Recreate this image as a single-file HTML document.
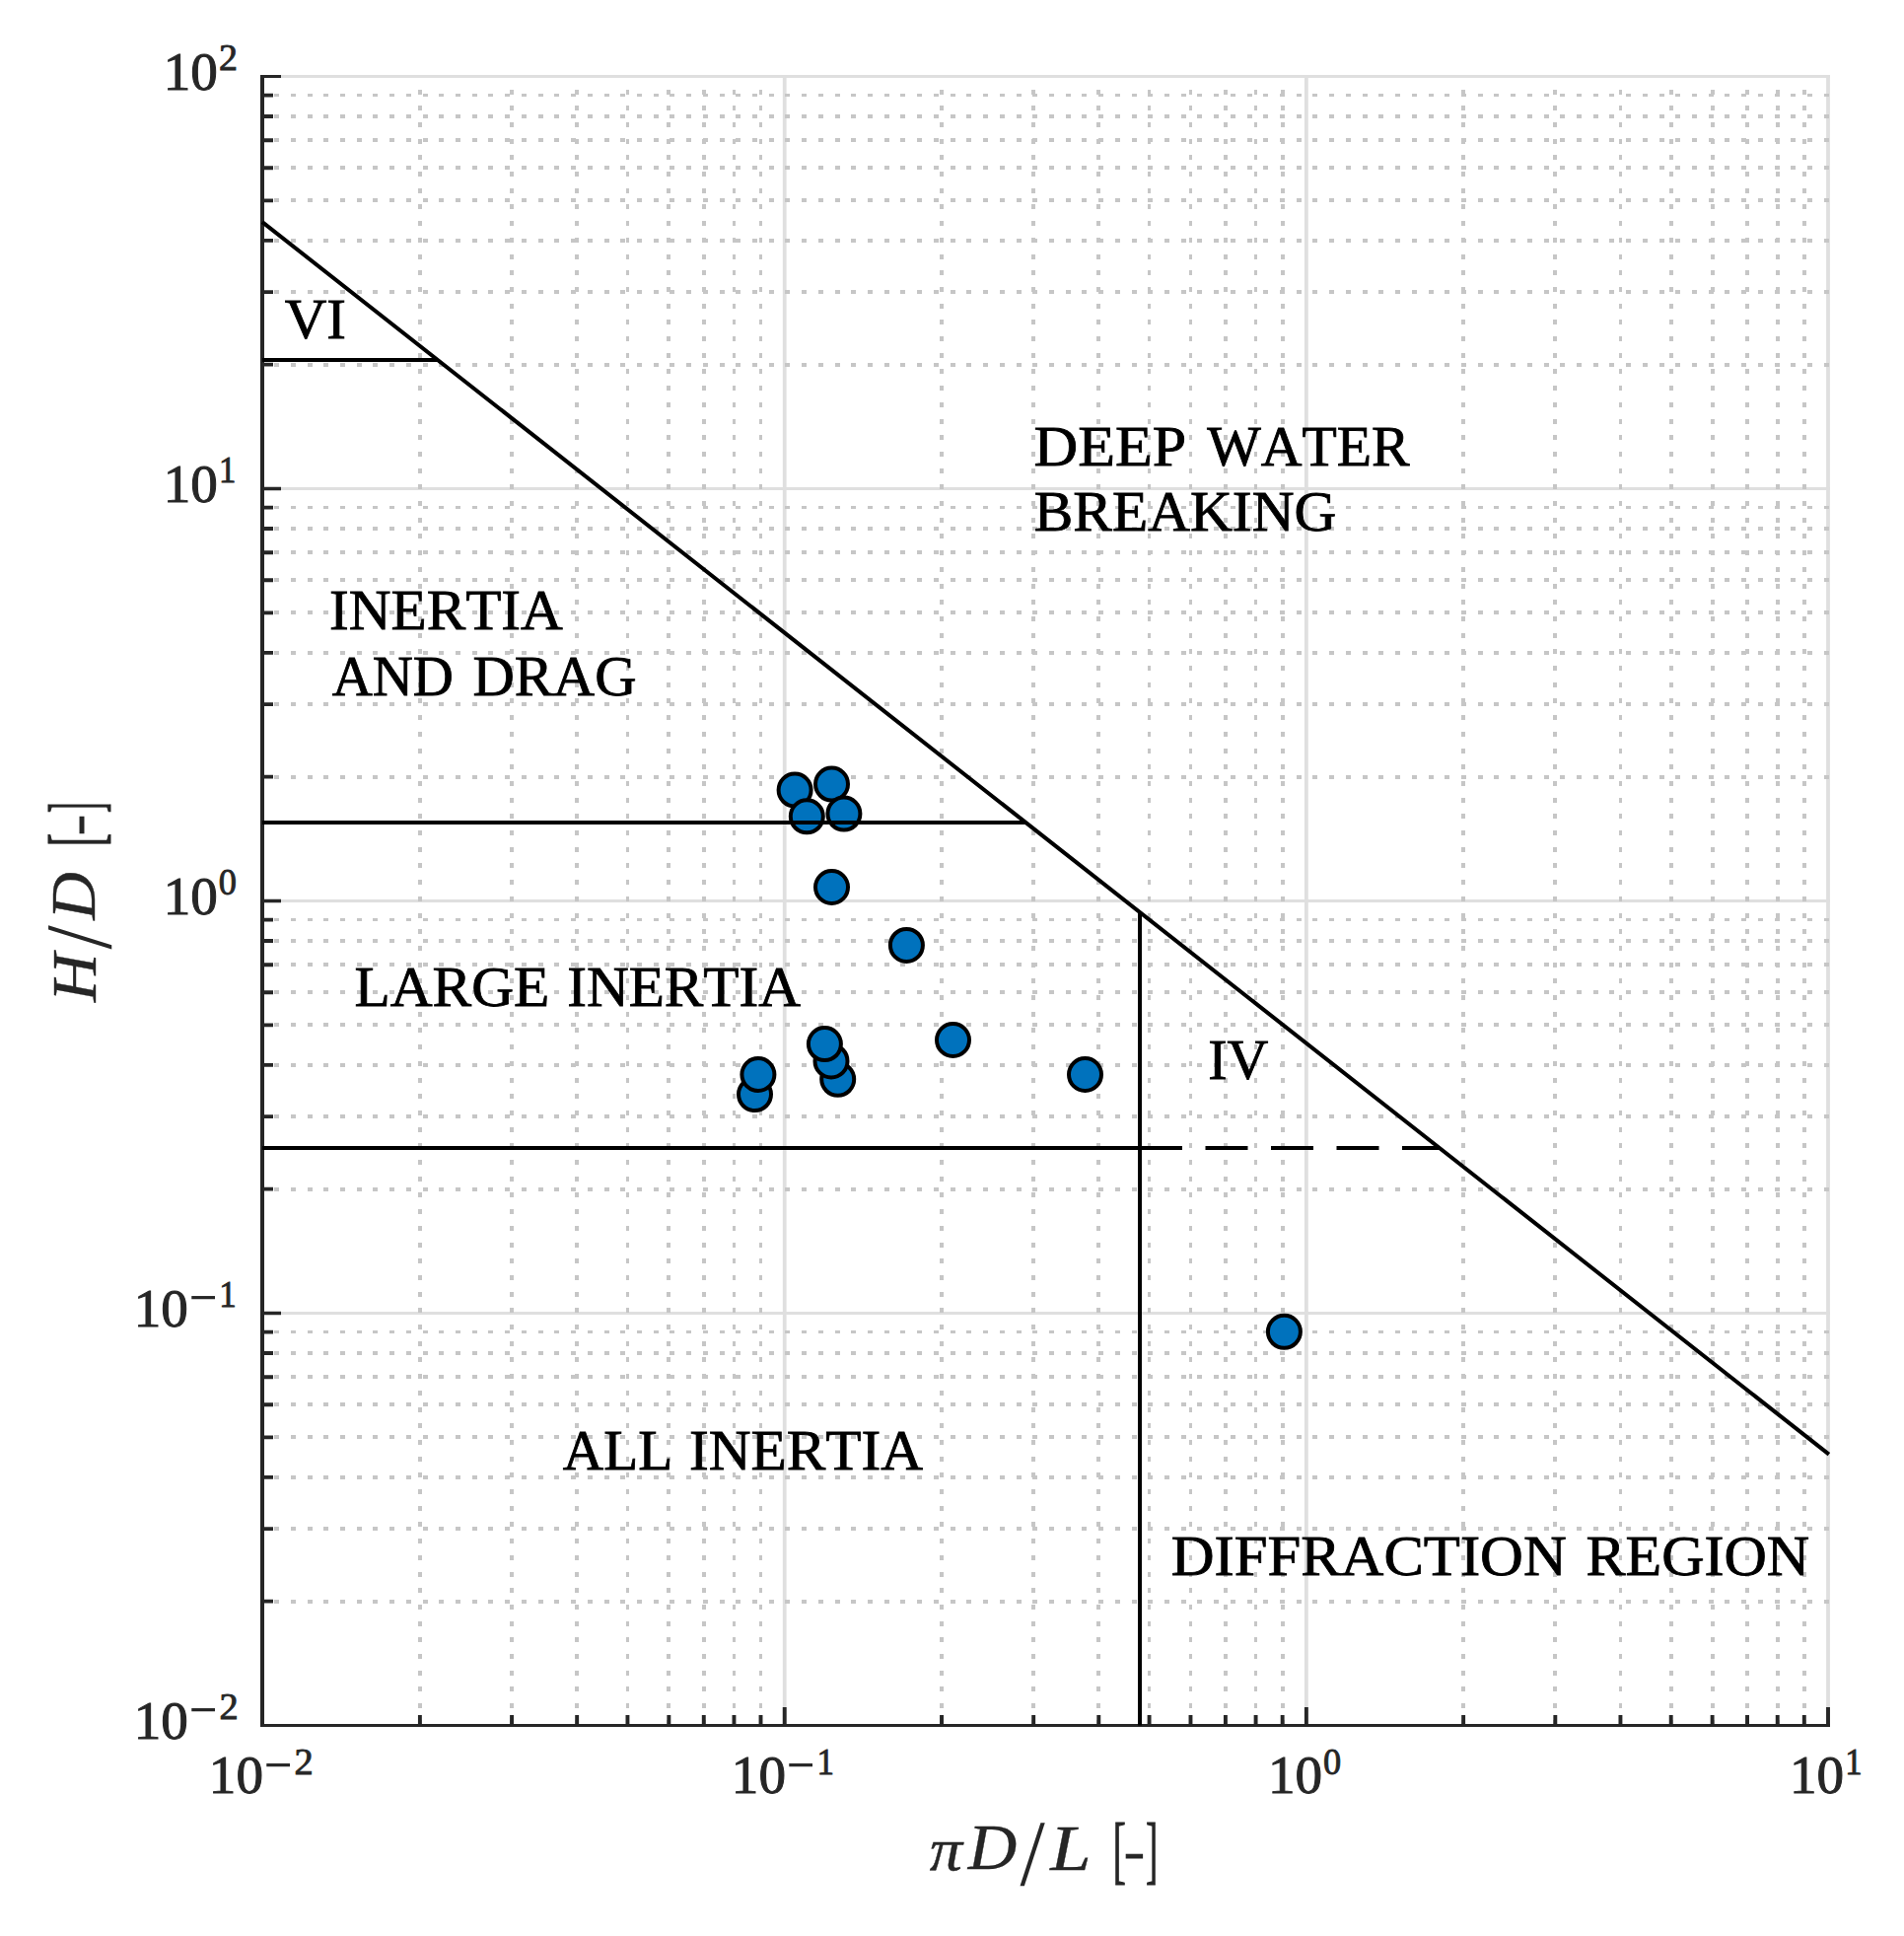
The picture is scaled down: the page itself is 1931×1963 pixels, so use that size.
<!DOCTYPE html>
<html><head><meta charset="utf-8"><title>Wave force regimes</title>
<style>html,body{margin:0;padding:0;background:#fff}svg{display:block}
text{font-family:"Liberation Serif",serif;font-kerning:none;white-space:pre}</style></head>
<body><svg width="1931" height="1963" viewBox="0 0 1931 1963">
<rect width="1931" height="1963" fill="#fff"/>
<path d="M795.73 1749.5V76M1324.87 1749.5V76M1854 1749.5V76" fill="none" stroke="#dfdfdf" stroke-width="3.8"/>
<path d="M266 1331.5H1855.9M266 913.5H1855.9M266 495.5H1855.9M266 77.5H1855.9" fill="none" stroke="#dfdfdf" stroke-width="3"/>
<path d="M425.89 1748.8V80.5M519.06 1748.8V80.5M585.17 1748.8V80.5M636.45 1748.8V80.5M678.35 1748.8V80.5M713.77 1748.8V80.5M744.46 1748.8V80.5M771.52 1748.8V80.5M955.02 1748.8V80.5M1048.19 1748.8V80.5M1114.3 1748.8V80.5M1165.58 1748.8V80.5M1207.48 1748.8V80.5M1242.9 1748.8V80.5M1273.59 1748.8V80.5M1300.65 1748.8V80.5M1484.15 1748.8V80.5M1577.33 1748.8V80.5M1643.44 1748.8V80.5M1694.71 1748.8V80.5M1736.61 1748.8V80.5M1772.04 1748.8V80.5M1802.72 1748.8V80.5M1829.79 1748.8V80.5" fill="none" stroke="#c6c6c6" stroke-width="3.8" stroke-dasharray="5 11.7" shape-rendering="crispEdges"/>
<path d="M1854.8 1623.67H266M1854.8 1550.06H266M1854.8 1497.84H266M1854.8 1457.33H266M1854.8 1424.23H266M1854.8 1396.25H266M1854.8 1372.01H266M1854.8 1350.63H266M1854.8 1205.67H266M1854.8 1132.06H266M1854.8 1079.84H266M1854.8 1039.33H266M1854.8 1006.23H266M1854.8 978.25H266M1854.8 954.01H266M1854.8 932.63H266M1854.8 787.67H266M1854.8 714.06H266M1854.8 661.84H266M1854.8 621.33H266M1854.8 588.23H266M1854.8 560.25H266M1854.8 536.01H266M1854.8 514.63H266M1854.8 369.67H266M1854.8 296.06H266M1854.8 243.84H266M1854.8 203.33H266M1854.8 170.23H266M1854.8 142.25H266M1854.8 118.01H266M1854.8 96.63H266" fill="none" stroke="#c6c6c6" stroke-width="3.7" stroke-dasharray="5 11.72" shape-rendering="crispEdges"/>
<path d="M266 76V1751" fill="none" stroke="#262626" stroke-width="4"/>
<path d="M264 1749.5H1856" fill="none" stroke="#262626" stroke-width="3"/>
<path d="M266 1623.67H277M266 1550.06H277M266 1497.84H277M266 1457.33H277M266 1424.23H277M266 1396.25H277M266 1372.01H277M266 1350.63H277M266 1205.67H277M266 1132.06H277M266 1079.84H277M266 1039.33H277M266 1006.23H277M266 978.25H277M266 954.01H277M266 932.63H277M266 787.67H277M266 714.06H277M266 661.84H277M266 621.33H277M266 588.23H277M266 560.25H277M266 536.01H277M266 514.63H277M266 369.67H277M266 296.06H277M266 243.84H277M266 203.33H277M266 170.23H277M266 142.25H277M266 118.01H277M266 96.63H277" fill="none" stroke="#262626" stroke-width="3.8"/>
<path d="M266 1331.5H285M266 913.5H285M266 495.5H285" fill="none" stroke="#262626" stroke-width="3.4"/>
<path d="M264 77.5H285" fill="none" stroke="#262626" stroke-width="3"/>
<path d="M425.89 1749.5V1739M519.06 1749.5V1739M585.17 1749.5V1739M636.45 1749.5V1739M678.35 1749.5V1739M713.77 1749.5V1739M744.46 1749.5V1739M771.52 1749.5V1739M955.02 1749.5V1739M1048.19 1749.5V1739M1114.3 1749.5V1739M1165.58 1749.5V1739M1207.48 1749.5V1739M1242.9 1749.5V1739M1273.59 1749.5V1739M1300.65 1749.5V1739M1484.15 1749.5V1739M1577.33 1749.5V1739M1643.44 1749.5V1739M1694.71 1749.5V1739M1736.61 1749.5V1739M1772.04 1749.5V1739M1802.72 1749.5V1739M1829.79 1749.5V1739M795.73 1749.5V1731M1324.87 1749.5V1731M1854 1751V1731" fill="none" stroke="#262626" stroke-width="3.9"/>
<g fill="#0072bd" stroke="#000" stroke-width="4"><circle cx="806.1" cy="801.1" r="16.5"/><circle cx="843.5" cy="795.1" r="16.5"/><circle cx="818.3" cy="827.8" r="16.5"/><circle cx="855.9" cy="825.1" r="16.5"/><circle cx="843.5" cy="899.5" r="16.5"/><circle cx="919.4" cy="958.4" r="16.5"/><circle cx="966.5" cy="1054.5" r="16.5"/><circle cx="849.7" cy="1094.3" r="16.5"/><circle cx="843" cy="1075.9" r="16.5"/><circle cx="836.4" cy="1058.6" r="16.5"/><circle cx="765.5" cy="1109.6" r="16.5"/><circle cx="768.9" cy="1089.5" r="16.5"/><circle cx="1100.5" cy="1089.5" r="16.5"/><circle cx="1302.4" cy="1350.3" r="16.5"/></g>
<path d="M266 225.1L1854.9 1474.61M266 365H443.9M266 834H1040.29M266 1164H1156M1156 1749.5V924.99" fill="none" stroke="#000" stroke-width="4.0"/>
<path d="M1156 1164H1459.92" fill="none" stroke="#000" stroke-width="4.0" stroke-dasharray="43 23.5"/>
<text transform="translate(288.64 343.1) scale(1.0399 1)" font-size="56.81" fill="#000" stroke="#000" stroke-width="0.8">VI</text>
<text transform="translate(1048.62 471.9) scale(1.0889 1)" font-size="56.81" fill="#000" stroke="#000" stroke-width="0.8">DEEP</text>
<text transform="translate(1224.24 471.9) scale(1.0173 1)" font-size="56.81" fill="#000" stroke="#000" stroke-width="0.8">WATER</text>
<text transform="translate(1048.69 538) scale(1.0451 1)" font-size="56.81" fill="#000" stroke="#000" stroke-width="0.8">BREAKING</text>
<text transform="translate(333.96 638.1) scale(1.0431 1)" font-size="56.81" fill="#000" stroke="#000" stroke-width="0.8">INERTIA</text>
<text transform="translate(336.64 704.8) scale(1.0012 1)" font-size="56.81" fill="#000" stroke="#000" stroke-width="0.8">AND</text>
<text transform="translate(479.41 704.8) scale(1.0320 1)" font-size="56.81" fill="#000" stroke="#000" stroke-width="0.8">DRAG</text>
<text transform="translate(359.39 1020) scale(1.0455 1)" font-size="56.81" fill="#000" stroke="#000" stroke-width="0.8">LARGE</text>
<text transform="translate(575.16 1020) scale(1.0431 1)" font-size="56.81" fill="#000" stroke="#000" stroke-width="0.8">INERTIA</text>
<text transform="translate(1225.31 1094.1) scale(1.0200 1)" font-size="56.81" fill="#000" stroke="#000" stroke-width="0.8">IV</text>
<text transform="translate(570.84 1490) scale(1.0088 1)" font-size="56.81" fill="#000" stroke="#000" stroke-width="0.8">ALL</text>
<text transform="translate(699.06 1490) scale(1.0435 1)" font-size="56.81" fill="#000" stroke="#000" stroke-width="0.8">INERTIA</text>
<text transform="translate(1187.65 1596.9) scale(1.0679 1)" font-size="56.81" fill="#000" stroke="#000" stroke-width="0.8">DIFFRACTION</text>
<text transform="translate(1608.47 1596.9) scale(1.0564 1)" font-size="56.81" fill="#000" stroke="#000" stroke-width="0.8">REGION</text>
<text transform="translate(135.75 1762.7) scale(1.0058 1)" font-size="54.83" fill="#262626" stroke="#262626" stroke-width="1">10</text>
<text transform="translate(191.66 1754.83) scale(0.7927 1)" font-size="64.25" fill="#262626">−</text>
<text transform="translate(222.46 1743.15) scale(1.0186 1)" font-size="37.72" fill="#262626" stroke="#262626" stroke-width="0.9">2</text>
<text transform="translate(135.75 1344.7) scale(1.0058 1)" font-size="54.83" fill="#262626" stroke="#262626" stroke-width="1">10</text>
<text transform="translate(191.66 1336.83) scale(0.7927 1)" font-size="64.25" fill="#262626">−</text>
<text transform="translate(222.28 1325.15) scale(0.9264 1)" font-size="37.72" fill="#262626" stroke="#262626" stroke-width="0.9">1</text>
<text transform="translate(165.75 926.7) scale(1.0058 1)" font-size="54.83" fill="#262626" stroke="#262626" stroke-width="1">10</text>
<text transform="translate(221.77 907.15) scale(0.9634 1)" font-size="37.72" fill="#262626" stroke="#262626" stroke-width="0.9">0</text>
<text transform="translate(165.75 508.7) scale(1.0058 1)" font-size="54.83" fill="#262626" stroke="#262626" stroke-width="1">10</text>
<text transform="translate(222.1 489.15) scale(0.9188 1)" font-size="37.72" fill="#262626" stroke="#262626" stroke-width="0.9">1</text>
<text transform="translate(165.75 90.7) scale(1.0058 1)" font-size="54.83" fill="#262626" stroke="#262626" stroke-width="1">10</text>
<text transform="translate(221.98 71.15) scale(1.0053 1)" font-size="37.72" fill="#262626" stroke="#262626" stroke-width="0.9">2</text>
<text transform="translate(211.85 1818.4) scale(1.0058 1)" font-size="54.83" fill="#262626" stroke="#262626" stroke-width="1">10</text>
<text transform="translate(267.76 1810.53) scale(0.7927 1)" font-size="64.25" fill="#262626">−</text>
<text transform="translate(298.56 1798.85) scale(1.0186 1)" font-size="37.72" fill="#262626" stroke="#262626" stroke-width="0.9">2</text>
<text transform="translate(741.85 1818.4) scale(1.0058 1)" font-size="54.83" fill="#262626" stroke="#262626" stroke-width="1">10</text>
<text transform="translate(797.76 1810.53) scale(0.7927 1)" font-size="64.25" fill="#262626">−</text>
<text transform="translate(828.38 1798.85) scale(0.9264 1)" font-size="37.72" fill="#262626" stroke="#262626" stroke-width="0.9">1</text>
<text transform="translate(1285.95 1818.4) scale(1.0058 1)" font-size="54.83" fill="#262626" stroke="#262626" stroke-width="1">10</text>
<text transform="translate(1341.97 1798.85) scale(0.9634 1)" font-size="37.72" fill="#262626" stroke="#262626" stroke-width="0.9">0</text>
<text transform="translate(1814.95 1818.4) scale(1.0058 1)" font-size="54.83" fill="#262626" stroke="#262626" stroke-width="1">10</text>
<text transform="translate(1871.3 1798.85) scale(0.9188 1)" font-size="37.72" fill="#262626" stroke="#262626" stroke-width="0.9">1</text>
<text transform="translate(942.84 1896.4) scale(1.0835 1)" font-size="61.23" font-style="italic" fill="#262626" stroke="#262626" stroke-width="0.4">π</text>
<text transform="translate(981.77 1895.47) scale(1.0389 1)" font-size="65.93" font-style="italic" fill="#262626" stroke="#262626" stroke-width="0.4">D</text>
<text transform="translate(1032.97 1896.66) skewX(-18.14) scale(1.2310 1)" font-size="70.14" fill="#262626">|</text>
<text transform="translate(1065.17 1895.6) scale(1.1243 1)" font-size="66.13" font-style="italic" fill="#262626" stroke="#262626" stroke-width="0.4">L</text>
<text transform="translate(1128.5 1901.15) scale(0.5327 1)" font-size="75.88" fill="#262626" stroke="#262626" stroke-width="1">[</text>
<text transform="translate(1140.09 1894.48) scale(1.2261 1)" font-size="50.87" fill="#262626" stroke="#262626" stroke-width="1">-</text>
<text transform="translate(1161.97 1901.15) scale(0.4854 1)" font-size="75.88" fill="#262626" stroke="#262626" stroke-width="1">]</text>
<text transform="translate(96.6 1015.96) rotate(-90) scale(1.0632 1)" font-size="64.45" font-style="italic" fill="#262626" stroke="#262626" stroke-width="0.4">H</text>
<text transform="rotate(-90) translate(-964.37 97.77) skewX(-17.22) scale(1.2233 1)" font-size="70.58" fill="#262626">|</text>
<text transform="translate(96.47 932.74) rotate(-90) scale(1.0465 1)" font-size="64.26" font-style="italic" fill="#262626" stroke="#262626" stroke-width="0.4">D</text>
<text transform="translate(102.33 858.3) rotate(-90) scale(0.5319 1)" font-size="76" fill="#262626" stroke="#262626" stroke-width="1">[</text>
<text transform="translate(96.11 847.03) rotate(-90) scale(1.1719 1)" font-size="53.54" fill="#262626" stroke="#262626" stroke-width="1">-</text>
<text transform="translate(102.33 824.3) rotate(-90) scale(0.4373 1)" font-size="76" fill="#262626" stroke="#262626" stroke-width="1">]</text>
</svg></body></html>
